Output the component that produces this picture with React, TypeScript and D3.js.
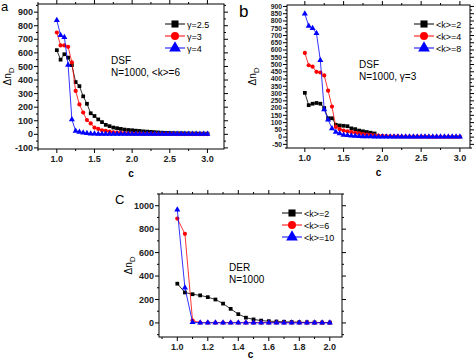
import React, { useEffect, useRef } from 'react';
import * as d3 from 'd3';

// x values (c)
const cLong = [1.0, 1.05, 1.1, 1.15, 1.2, 1.25, 1.3, 1.35, 1.4, 1.45, 1.5, 1.55, 1.6, 1.65, 1.7, 1.75, 1.8, 1.85, 1.9, 1.95,
  2.0, 2.05, 2.1, 2.15, 2.2, 2.25, 2.3, 2.35, 2.4, 2.45, 2.5, 2.55, 2.6, 2.65, 2.7, 2.75, 2.8, 2.85, 2.9, 2.95, 3.0];
const cShort = [1.0, 1.05, 1.1, 1.15, 1.2, 1.25, 1.3, 1.35, 1.4, 1.45, 1.5, 1.55, 1.6, 1.65, 1.7, 1.75, 1.8, 1.85, 1.9, 1.95, 2.0];
const cB2 = [1.0, 1.05, 1.1, 1.15, 1.2, 1.25, 1.3, 1.35, 1.4, 1.45, 1.5, 1.55, 1.6, 1.65, 1.7, 1.75, 1.8, 1.85, 1.9];

// panel a: DSF N=1000 <k>=6
const aGamma25 = [620, 550, 590, 565, 510, 385, 355, 280, 225, 155, 135, 110, 90, 70, 60, 50, 45, 40, 35, 32,
  30, 27, 25, 22, 20, 18, 16, 14, 12, 11, 10, 9, 8, 8, 7, 7, 6, 6, 5, 5, 5];
const aGamma3 = [750, 655, 655, 645, 530, 320, 220, 160, 105, 80, 50, 40, 30, 25, 20, 15, 12, 10, 8, 7,
  6, 5, 5, 4, 4, 4, 3, 3, 3, 3, 3, 3, 2, 2, 2, 2, 2, 2, 2, 2, 2];
const aGamma4 = [840, 730, 715, 510, 110, 25, 18, 12, 8, 5, 4, 3, 3, 2, 2, 2, 2, 2, 2, 2,
  2, 2, 2, 2, 2, 2, 2, 2, 2, 2, 2, 2, 2, 2, 2, 2, 2, 2, 2, 2, 2];

// panel b: DSF N=1000 gamma=3
const bK2 = [305, 220, 230, 235, 230, 200, 130, 130, 85, 80, 78, 75, 60, 55, 45, 40, 35, 30, 25];
const bK4 = [580, 495, 485, 450, 445, 425, 320, 210, 70, 55, 45, 40, 35, 30, 25, 20, 18, 15, 12, 10,
  8, 7, 6, 5, 5, 4, 4, 3, 3, 3, 3, 3, 2, 2, 2, 2, 2, 2, 2, 2, 2];
const bK8 = [850, 765, 750, 715, 530, 190, 120, 60, 35, 25, 15, 12, 10, 8, 6, 5, 4, 4, 3, 3,
  2, 2, 2, 2, 2, 2, 2, 2, 2, 2, 2, 2, 2, 2, 2, 2, 2, 2, 2, 2, 2];

// panel c: DER N=1000
const cK2 = [335, 260, 245, 235, 220, 200, 165, 120, 75, 45, 30, 20, 15, 12, 10, 8, 6, 5, 4, 3, 3];
const cK6 = [890, 760, 20, 2, 2, 2, 2, 2, 2, 2, 2, 2, 2, 2, 2, 2, 2, 2, 2, 2, 2];
const cK10 = [965, 300, 5, 2, 2, 2, 2, 2, 2, 2, 2, 2, 2, 2, 2, 2, 2, 2, 2, 2, 2];

const ticksA = [-100, 0, 100, 200, 300, 400, 500, 600, 700, 800, 900];
const ticksB = [-50, 0, 50, 100, 150, 200, 250, 300, 350, 400, 450, 500, 550, 600, 650, 700, 750, 800, 850, 900];
const ticksC = [0, 200, 400, 600, 800, 1000];
const xTicksAB = [1.0, 1.5, 2.0, 2.5, 3.0];
const xTicksC = [1.0, 1.2, 1.4, 1.6, 1.8, 2.0];

type Series = { name: string; x: number[]; y: number[]; color: string; shape: 'square' | 'circle' | 'triangle' };

interface PanelDef {
  letter: string;
  box: [number, number, number, number]; // left, top, right, bottom
  xDomain: [number, number];
  yDomain: [number, number];
  xTicks: number[];
  yTicks: number[];
  xMinor: number;
  yMinor: number;
  yFont: number;
  series: Series[];
  legend: { x: number; y: number; dy: number };
  note: { x: number; y: number; lines: string[] };
  letterPos: [number, number];
  yLabelX: number;
  xLabelDy: number;
}

const font = 'Liberation Sans, Arial, sans-serif';

const symbol = (shape: Series['shape'], size: number) => {
  const t = shape === 'square' ? d3.symbolSquare : shape === 'circle' ? d3.symbolCircle : d3.symbolTriangle;
  return d3.symbol().type(t).size(size)()!;
};

function drawPanel(root: d3.Selection<SVGGElement, unknown, null, undefined>, p: PanelDef) {
  const [l, t, r, b] = p.box;
  const x = d3.scaleLinear().domain(p.xDomain).range([l, r]);
  const y = d3.scaleLinear().domain(p.yDomain).range([b, t]);
  const g = root.append('g');

  // series
  p.series.forEach(s => {
    const pts = s.x.map((xv, i) => [x(xv), y(s.y[i])] as [number, number]);
    g.append('path')
      .attr('d', d3.line()(pts)!)
      .attr('fill', 'none')
      .attr('stroke', s.color)
      .attr('stroke-width', 0.8);
    g.selectAll(null)
      .data(pts)
      .join('path')
      .attr('transform', d => `translate(${d[0]},${d[1]})`)
      .attr('d', symbol(s.shape, s.shape === 'triangle' ? 16 : 14))
      .attr('fill', s.color);
  });

  // frame
  g.append('rect')
    .attr('x', l).attr('y', t).attr('width', r - l).attr('height', b - t)
    .attr('fill', 'none').attr('stroke', '#000').attr('stroke-width', 1);

  const [x0, x1] = p.xDomain;
  const [y0, y1] = p.yDomain;
  const xMinorTicks = d3.range(Math.ceil(x0 / p.xMinor) * p.xMinor, x1 + 1e-9, p.xMinor);
  const yMinorTicks = d3.range(Math.ceil(y0 / p.yMinor) * p.yMinor, y1 + 1e-9, p.yMinor);

  const tickG = g.append('g').attr('stroke', '#000').attr('stroke-width', 1);
  xMinorTicks.forEach(v => {
    const major = p.xTicks.some(tv => Math.abs(tv - v) < 1e-6);
    const len = major ? 4 : 2;
    tickG.append('line').attr('x1', x(v)).attr('x2', x(v)).attr('y1', b).attr('y2', b + len);
    tickG.append('line').attr('x1', x(v)).attr('x2', x(v)).attr('y1', t).attr('y2', t - len);
  });
  yMinorTicks.forEach(v => {
    const major = p.yTicks.some(tv => Math.abs(tv - v) < 1e-6);
    const len = major ? 4 : 2;
    tickG.append('line').attr('y1', y(v)).attr('y2', y(v)).attr('x1', l).attr('x2', l - len);
    tickG.append('line').attr('y1', y(v)).attr('y2', y(v)).attr('x1', r).attr('x2', r + len);
  });

  // tick labels
  g.selectAll(null).data(p.xTicks).join('text')
    .attr('x', d => x(d)).attr('y', b + 13)
    .attr('text-anchor', 'middle')
    .attr('font-size', 9).attr('font-weight', 'bold').attr('font-family', font)
    .attr('fill', '#222')
    .text(d => d.toFixed(1));
  g.selectAll(null).data(p.yTicks).join('text')
    .attr('x', l - 5).attr('y', d => y(d) + p.yFont * 0.35)
    .attr('text-anchor', 'end')
    .attr('font-size', p.yFont).attr('font-weight', 'bold').attr('font-family', font)
    .attr('fill', '#222')
    .text(d => String(d));

  // axis titles
  g.append('text')
    .attr('x', (l + r) / 2).attr('y', b + p.xLabelDy)
    .attr('text-anchor', 'middle')
    .attr('font-size', 10).attr('font-weight', 'bold').attr('font-family', font)
    .text('c');
  const yl = g.append('text')
    .attr('transform', `translate(${p.yLabelX},${(t + b) / 2}) rotate(-90)`)
    .attr('text-anchor', 'middle')
    .attr('font-size', 10).attr('font-family', font);
  yl.append('tspan').text('Δn');
  yl.append('tspan').attr('dy', 3).attr('font-size', 8).text('D');

  // legend
  p.series.forEach((s, i) => {
    const ly = p.legend.y + i * p.legend.dy;
    g.append('line')
      .attr('x1', p.legend.x).attr('x2', p.legend.x + 20)
      .attr('y1', ly).attr('y2', ly)
      .attr('stroke', s.color).attr('stroke-width', 1);
    g.append('path')
      .attr('transform', `translate(${p.legend.x + 10},${ly})`)
      .attr('d', symbol(s.shape, s.shape === 'triangle' ? 60 : 50))
      .attr('fill', s.color);
    g.append('text')
      .attr('x', p.legend.x + 22).attr('y', ly + 3.5)
      .attr('font-size', 9).attr('font-family', font)
      .text(s.name);
  });

  p.note.lines.forEach((line, i) => {
    g.append('text')
      .attr('x', p.note.x).attr('y', p.note.y + i * 12)
      .attr('font-size', 10).attr('font-family', font)
      .text(line);
  });

  g.append('text')
    .attr('x', p.letterPos[0]).attr('y', p.letterPos[1])
    .attr('font-size', p.letter === 'b' ? 17 : 13).attr('font-family', font)
    .text(p.letter);
}

const panels: PanelDef[] = [
  {
    letter: 'a',
    box: [38, 4, 224, 149],
    xDomain: [0.75, 3.22],
    yDomain: [-108, 960],
    xTicks: xTicksAB, yTicks: ticksA, xMinor: 0.25, yMinor: 50, yFont: 9,
    series: [
      { name: 'γ=2.5', x: cLong, y: aGamma25, color: '#000000', shape: 'square' },
      { name: 'γ=3', x: cLong, y: aGamma3, color: '#ff0000', shape: 'circle' },
      { name: 'γ=4', x: cLong, y: aGamma4, color: '#0000ff', shape: 'triangle' },
    ],
    legend: { x: 165, y: 24, dy: 12 },
    note: { x: 111, y: 64, lines: ['DSF', 'N=1000, <k>=6'] },
    letterPos: [1, 11],
    yLabelX: 11,
    xLabelDy: 28,
  },
  {
    letter: 'b',
    box: [287, 5, 470, 148],
    xDomain: [0.77, 3.13],
    yDomain: [-75, 910],
    xTicks: xTicksAB, yTicks: ticksB, xMinor: 0.25, yMinor: 25, yFont: 6.8,
    series: [
      { name: '<k>=2', x: cB2, y: bK2, color: '#000000', shape: 'square' },
      { name: '<k>=4', x: cLong, y: bK4, color: '#ff0000', shape: 'circle' },
      { name: '<k>=8', x: cLong, y: bK8, color: '#0000ff', shape: 'triangle' },
    ],
    legend: { x: 414, y: 24, dy: 12 },
    note: { x: 359, y: 68, lines: ['DSF', 'N=1000, γ=3'] },
    letterPos: [239, 17],
    yLabelX: 256,
    xLabelDy: 28,
  },
  {
    letter: 'C',
    box: [159, 194, 342, 337],
    xDomain: [0.88, 2.08],
    yDomain: [-120, 1100],
    xTicks: xTicksC, yTicks: ticksC, xMinor: 0.1, yMinor: 100, yFont: 9,
    series: [
      { name: '<k>=2', x: cShort, y: cK2, color: '#000000', shape: 'square' },
      { name: '<k>=6', x: cShort, y: cK6, color: '#ff0000', shape: 'circle' },
      { name: '<k>=10', x: cShort, y: cK10, color: '#0000ff', shape: 'triangle' },
    ],
    legend: { x: 282, y: 213, dy: 12 },
    note: { x: 229, y: 271, lines: ['DER', 'N=1000'] },
    letterPos: [115, 204],
    yLabelX: 132,
    xLabelDy: 21,
  },
];

const App: React.FC = () => {
  const svgRef = useRef<SVGSVGElement>(null);

  useEffect(() => {
    if (!svgRef.current) return;
    d3.select(svgRef.current).selectAll('*').remove();
    const root = d3.select(svgRef.current).append('g');
    panels.forEach(p => drawPanel(root as any, p));
  }, []);

  return (
    <svg
      ref={svgRef}
      width={474}
      height={360}
      style={{ position: 'absolute', left: 0, top: 0, background: '#fff' }}
    />
  );
};

export default App;
